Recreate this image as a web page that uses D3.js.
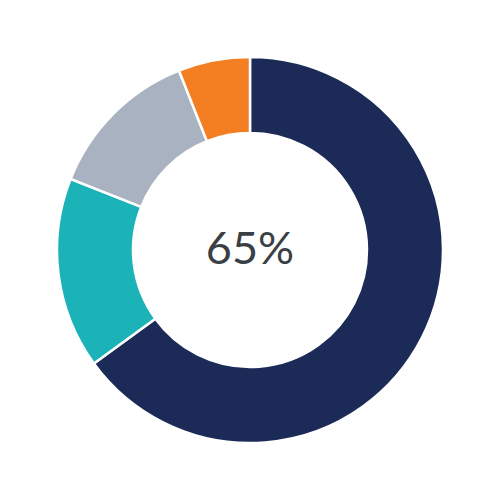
<!DOCTYPE html>
<html>
<head>
<meta charset="utf-8">
<script src="https://cdn.jsdelivr.net/npm/d3@7"></script>
<style>
  html, body { margin: 0; padding: 0; background: #fff; }
</style>
</head>
<body>
<svg id="chart"></svg>
<script>
// DATA //
var categories = ['A', 'B', 'C', 'D']
var values = [65, 16, 13, 6]
var colors = ['#1b2a57', '#1bb3b8', '#a8b2c1', '#f37f22']
var centerLabel = '65%'

// DRAW DONUT //
function drawDonut(){
    const width = 500
    const height = 500
    const outer = 193
    const inner = 117

    var svg = d3.select('#chart')
              .attr('width', width)
              .attr('height', height)
              .append('g')
              .attr('transform', `translate(${width/2},${height/2})`)

    let pie = d3.pie().sort(null).value((d)=>d)
    let arc = d3.arc().innerRadius(inner).outerRadius(outer)
    let color = d3.scaleOrdinal().domain(categories).range(colors)

    svg.selectAll('path')
    .data(pie(values))
    .enter()
    .append('path')
    .attr('d', arc)
    .attr('fill', (d,i)=>color(categories[i]))
    .attr('stroke', '#fff')
    .attr('stroke-width', 2.5)

    svg.append('text')
    .attr('text-anchor', 'middle')
    .attr('y', 14)
    .style('font-family', 'Lato, sans-serif')
    .style('font-weight', 400)
    .style('font-size', '45px')
    .attr('fill', '#3a3f44')
    .text(centerLabel)
}

drawDonut()
</script>
</body>
</html>
